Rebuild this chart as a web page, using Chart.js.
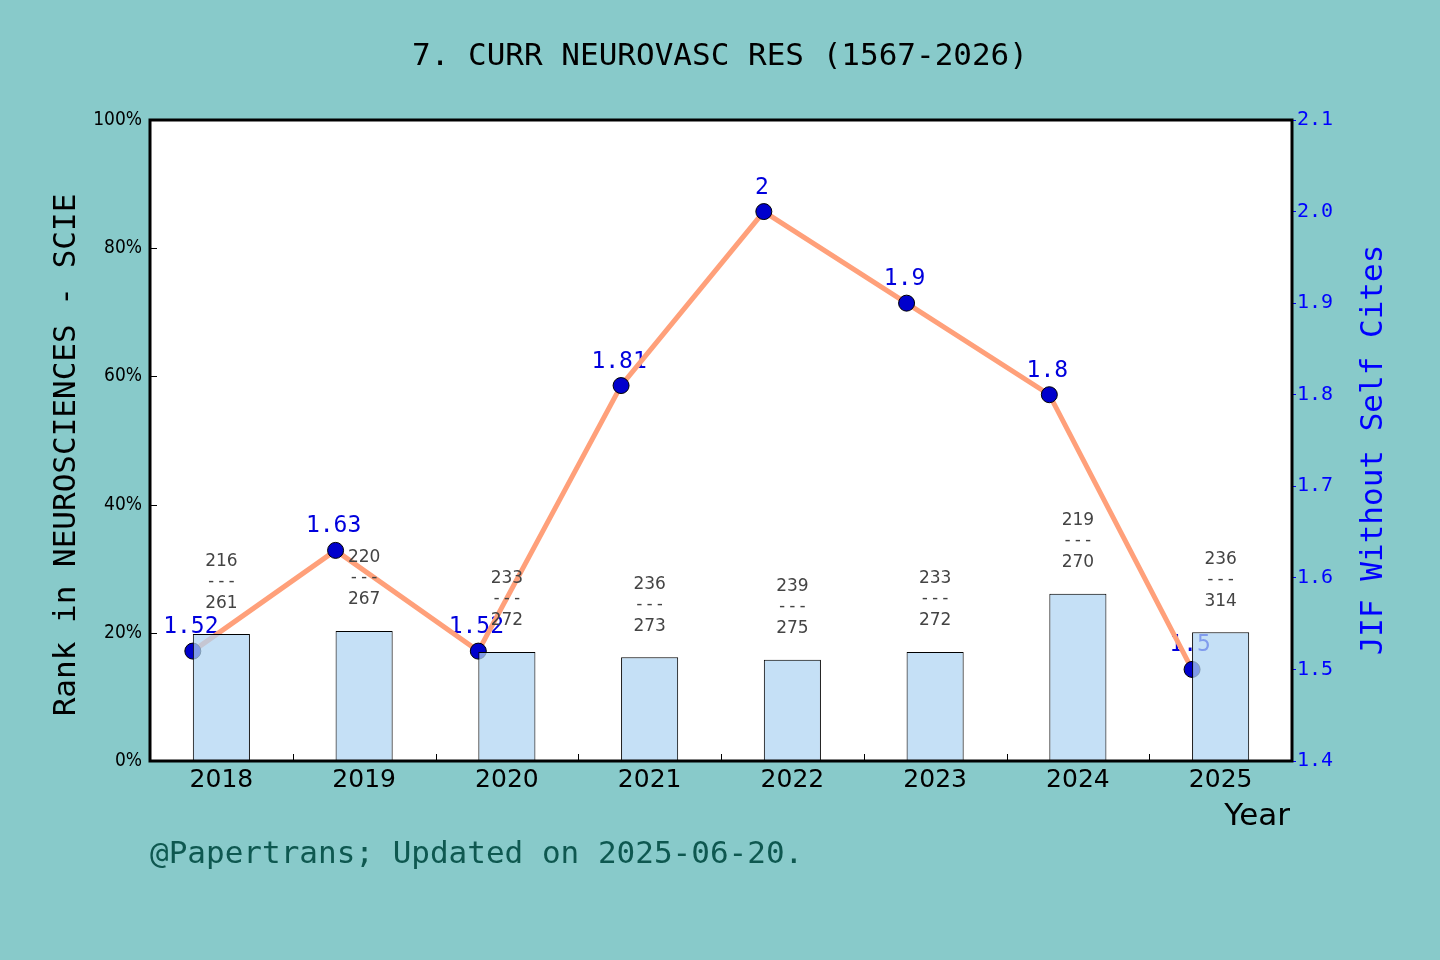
<!DOCTYPE html>
<html><head><meta charset="utf-8">
<script src="https://cdn.jsdelivr.net/npm/chart.js@4/dist/chart.umd.min.js"></script>
<style>html,body{margin:0;padding:0;background:#88caca;overflow:hidden;}#wrap{width:1440px;height:960px;}</style>
</head><body><div id="wrap"><canvas id="c" width="1440" height="960"></canvas></div>
<script>
const years = ['2018', '2019', '2020', '2021', '2022', '2023', '2024', '2025'];
const rankPercent = [19.8, 20.3, 17.0, 16.2, 15.8, 17.0, 26.1, 20.1];
const jifValues = [1.52, 1.63, 1.52, 1.81, 2.0, 1.9, 1.8, 1.5];
const jifLabels = ['1.52', '1.63', '1.52', '1.81', '2', '1.9', '1.8', '1.5'];
const rankNumbers = [216, 220, 233, 236, 239, 233, 219, 236];
const rankTotals = [261, 267, 272, 273, 275, 272, 270, 314];
const leftTicks = [0, 20, 40, 60, 80, 100];
const rightTicks = [1.4, 1.5, 1.6, 1.7, 1.8, 1.9, 2.0, 2.1];
const titleText = '7. CURR NEUROVASC RES (1567-2026)';
const leftAxisTitle = 'Rank in NEUROSCIENCES - SCIE';
const rightAxisTitle = 'JIF Without Self Cites';
const xAxisTitle = 'Year';
const footerText = '@Papertrans; Updated on 2025-06-20.';

const MONO = '"DejaVu Sans Mono", monospace';
const SANS = '"DejaVu Sans", sans-serif';
const NARROW = '"Liberation Sans Narrow", "DejaVu Sans Condensed", "Liberation Sans", sans-serif';

const decor = {
  id: 'decor',
  beforeDraw(chart) {
    const {ctx, chartArea: a} = chart;
    ctx.save();
    ctx.fillStyle = '#88caca';
    ctx.fillRect(0, 0, chart.width, chart.height);
    ctx.fillStyle = '#ffffff';
    ctx.fillRect(a.left, a.top, a.right - a.left, a.bottom - a.top);
    ctx.restore();
  },
  beforeDatasetsDraw(chart) {
    const {ctx} = chart;
    const xs = chart.scales.xl, ys = chart.scales.y1;
    ctx.save();
    ctx.fillStyle = '#0000dd';
    ctx.font = '23px ' + MONO;
    ctx.textAlign = 'center';
    ctx.textBaseline = 'middle';
    jifValues.forEach((v, i) => {
      const px = xs.getPixelForValue(i - 0.2);
      const py = ys.getPixelForValue(v);
      ctx.fillText(jifLabels[i], px - 2, py - 24);
    });
    ctx.restore();
  },
  afterDatasetsDraw(chart) {
    const {ctx, chartArea: a} = chart;
    const xs = chart.scales.x, ys = chart.scales.y;
    ctx.save();
    // bar annotations
    ctx.textAlign = 'center';
    ctx.textBaseline = 'middle';
    ctx.fillStyle = '#444444';
    rankPercent.forEach((v, i) => {
      const cx = xs.getPixelForValue(i);
      const top = ys.getPixelForValue(v);
      ctx.font = '17px ' + SANS;
      ctx.fillText(String(rankNumbers[i]), cx, top - 73);
      ctx.fillText(String(rankTotals[i]), cx, top - 31);
      ctx.font = '17px ' + MONO;
      ctx.fillText('---', cx, top - 53);
    });
    // inward ticks
    ctx.strokeStyle = '#000';
    ctx.lineWidth = 1;
    leftTicks.forEach(t => {
      const y = Math.round(ys.getPixelForValue(t)) + 0.5;
      ctx.beginPath(); ctx.moveTo(a.left, y); ctx.lineTo(a.left + 7, y); ctx.stroke();
    });
    for (let k = 1; k < years.length; k++) {
      const x = Math.round(chart.scales.xl.getPixelForValue(k - 0.5)) + 0.5;
      ctx.beginPath(); ctx.moveTo(x, a.bottom); ctx.lineTo(x, a.bottom - 7); ctx.stroke();
    }
    // plot frame
    ctx.lineWidth = 3;
    ctx.strokeStyle = '#000';
    ctx.strokeRect(a.left, a.top, a.right - a.left, a.bottom - a.top);
    // title
    ctx.fillStyle = '#000';
    ctx.font = '31px ' + MONO;
    ctx.textAlign = 'center';
    ctx.fillText(titleText, 720, 57);
    // left axis title
    ctx.save();
    ctx.translate(67, 455);
    ctx.rotate(-Math.PI / 2);
    ctx.fillText(leftAxisTitle, 0, 0);
    ctx.restore();
    // right axis title
    ctx.save();
    ctx.translate(1374, 450);
    ctx.rotate(-Math.PI / 2);
    ctx.fillStyle = '#0000ff';
    ctx.fillText(rightAxisTitle, 0, 0);
    ctx.restore();
    // x axis title
    ctx.font = '31px ' + SANS;
    ctx.textAlign = 'right';
    ctx.fillStyle = '#000';
    ctx.fillText(xAxisTitle, 1290, 817);
    // footer
    ctx.font = '31px ' + MONO;
    ctx.textAlign = 'left';
    ctx.fillStyle = '#0e5850';
    ctx.fillText(footerText, 150, 855);
    ctx.restore();
  }
};

new Chart(document.getElementById('c'), {
  type: 'bar',
  data: {
    labels: years,
    datasets: [
      {
        type: 'bar',
        data: rankPercent,
        xAxisID: 'x',
        yAxisID: 'y',
        backgroundColor: 'rgba(176,212,242,0.73)',
        borderColor: '#000000',
        borderWidth: 1,
        barPercentage: 0.4,
        categoryPercentage: 1.0,
        grouped: false,
        order: 1
      },
      {
        type: 'line',
        data: jifValues.map((v, i) => ({x: i - 0.2, y: v})),
        xAxisID: 'xl',
        yAxisID: 'y1',
        borderColor: '#ffa07a',
        borderWidth: 5,
        pointRadius: 8,
        pointBackgroundColor: '#0000cc',
        pointBorderColor: '#000000',
        pointBorderWidth: 1,
        tension: 0,
        order: 2
      }
    ]
  },
  options: {
    responsive: false,
    animation: false,
    devicePixelRatio: 1,
    layout: {padding: {top: 120, left: 0, right: 0, bottom: 0}},
    plugins: {legend: {display: false}, tooltip: {enabled: false}, title: {display: false}},
    scales: {
      x: {
        type: 'category',
        position: 'bottom',
        offset: true,
        grid: {display: false, drawTicks: false},
        border: {display: false},
        ticks: {color: '#000', font: {family: SANS, size: 25}, padding: 4},
        afterFit: s => { s.height = 199; }
      },
      xl: {
        type: 'linear',
        min: -0.5,
        max: 7.5,
        offset: false,
        bounds: 'ticks',
        display: false
      },
      y: {
        position: 'left',
        min: 0,
        max: 100,
        afterBuildTicks: s => { s.ticks = leftTicks.map(v => ({value: v})); },
        ticks: {color: '#000', font: {family: NARROW, size: 19}, padding: 8, callback: v => v + '%'},
        grid: {drawOnChartArea: false, drawTicks: false},
        border: {display: false},
        afterFit: s => { s.width = 150; }
      },
      y1: {
        position: 'right',
        min: 1.4,
        max: 2.1,
        afterBuildTicks: s => { s.ticks = rightTicks.map(v => ({value: v})); },
        ticks: {color: '#0000ff', font: {family: MONO, size: 20}, padding: 1, callback: v => Number(v).toFixed(1)},
        grid: {drawOnChartArea: false, drawTicks: true, tickLength: 4, color: '#0000ff'},
        border: {display: false},
        afterFit: s => { s.width = 148; }
      }
    }
  },
  plugins: [decor]
});
</script>
</body></html>
